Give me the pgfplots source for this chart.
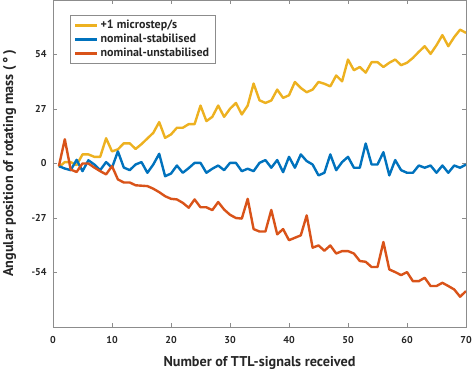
\documentclass[border=0pt]{standalone}
\usepackage{pgfplots}
\pgfplotsset{compat=1.18}
\usepackage{fontspec}
\setmainfont{PT Sans}
\definecolor{myellow}{HTML}{EDB120}
\definecolor{mblue}{HTML}{0072BD}
\definecolor{mred}{HTML}{D95319}
\pgfplotstableread{
x y
1 -1.8
2 0.7
3 0.7
4 -0.8
5 4.5
6 4.5
7 3.3
8 3.3
9 12.5
10 6
11 7
12 10
13 10
14 7.2
15 9.6
16 12.4
17 15.2
18 20.5
19 12.7
20 14.4
21 17.7
22 17.7
23 19.5
24 19.5
25 28.7
26 21
27 23.1
28 28.7
29 23.1
30 27.1
31 30
32 24.3
33 28.7
34 39.6
35 31.3
36 30
37 31.2
38 36.6
39 32.5
40 33.8
41 40.4
42 37.4
43 35.3
44 36.6
45 40.4
46 39.5
47 38.2
48 43.6
49 40.7
50 51.5
51 46.2
52 47.8
53 45
54 50.2
55 50.2
56 47.8
57 49.9
58 51.5
59 48.7
60 49.9
61 52.3
62 55.3
63 58.1
64 54.3
65 58.6
66 63.6
67 58.1
68 62.6
69 66.3
70 64.7
}\tmicro
\pgfplotstableread{
x y
1 -1.3
2 -2.5
3 -3.3
4 1.8
5 -3.8
6 1.6
7 -0.5
8 -3.3
9 0.7
10 -2.1
11 6
12 -2
13 -3.3
14 -0.5
15 0.7
16 -4.6
17 -0.5
18 4.8
19 -6.3
20 -5
21 -1
22 -4.6
23 -2.3
24 0.3
25 0.3
26 -4.6
27 -2.6
28 -1
29 -3.3
30 0.3
31 0.3
32 -3.8
33 -2.6
34 -3.8
35 0.3
36 1.7
37 -2.1
38 1.7
39 -4.3
40 3.3
41 -2.1
42 4.5
43 1.2
44 -0.5
45 -5.9
46 -4.6
47 4.5
48 -3.3
49 0.7
50 3.3
51 -2.1
52 -2.1
53 9.9
54 -0.5
55 -0.5
56 5.6
57 -5.9
58 1.7
59 -3.3
60 -4.6
61 -4.6
62 -1
63 -2.1
64 -1
65 -4.6
66 -1
67 -4.6
68 -1
69 -2.1
70 -0.5
}\tstab
\pgfplotstableread{
x y
1 -1.3
2 12
3 -3
4 -4.2
5 0
6 0
7 -2
8 -3.8
9 -5.4
10 -1.3
11 -7.9
12 -9.4
13 -9.4
14 -10.8
15 -11
16 -11.2
17 -12.5
18 -14.2
19 -16.2
20 -17.5
21 -17.8
22 -19.5
23 -21.9
24 -17.8
25 -21.7
26 -21.7
27 -23.1
28 -19.1
29 -22.8
30 -25.4
31 -27
32 -27.3
33 -17.5
34 -32.5
35 -33.7
36 -33.7
37 -23
38 -35.1
39 -32.5
40 -38
41 -36.8
42 -35.6
43 -25.7
44 -41.7
45 -40.6
46 -43.2
47 -40.6
48 -44.6
49 -43.4
50 -43.4
51 -44.6
52 -48.3
53 -48.7
54 -51.3
55 -51.3
56 -38.9
57 -52.5
58 -53.8
59 -55.3
60 -53.8
61 -58.3
62 -58.3
63 -56.6
64 -60.7
65 -60.7
66 -59.1
67 -60.7
68 -62.4
69 -66
70 -63.2
}\tunstab
\begin{document}
\begin{tikzpicture}
\begin{axis}[
  scale only axis,
  width=413pt, height=327pt,
  xmin=0, xmax=70, ymin=-81, ymax=81,
  xtick={0,10,20,30,40,50,60,70},
  xticklabels={0,10,20,30,40,50,60,70},
  ytick={-54,-27,0,27,54},
  yticklabels={-54,-27,0,27,54},
  tick align=inside,
  tick pos=both,
  major tick length=4pt,
  axis line style={draw=black!45, line width=0.8pt},
  every tick/.style={draw=black!45, line width=0.8pt},
  ticklabel style={font=\fontsize{10}{12}\selectfont\bfseries, text=black!85},
  xticklabel style={yshift=-6pt},
  yticklabel style={xshift=-3pt},
  xlabel={Number of TTL-signals received},
  ylabel={Angular position of rotating mass (\,°\,)},
  label style={font=\fontsize{14.2}{16}\selectfont\bfseries, text=black!85},
  xlabel style={at={(axis description cs:0.5,0)}, anchor=center, yshift=-36pt},
  ylabel style={at={(axis description cs:-0.1053,0.5)}, anchor=center},
  legend style={at={(0.041,0.954)}, anchor=north west, draw=black!45, line width=0.6pt,
    font=\fontsize{12}{14}\selectfont\bfseries, text=black!85, row sep=0pt,
    inner xsep=4pt, inner ysep=3pt},
  legend cell align=left,
  legend image code/.code={\draw[#1, line width=2.4pt] (0pt,0pt) -- (22pt,0pt);},
  every axis plot/.append style={line width=2.4pt, line join=round},
]
\addplot[myellow, mark=none] table[x=x,y=y] {\tmicro};
\addlegendentry{+1 microstep/s}
\addplot[mblue, mark=none] table[x=x,y=y] {\tstab};
\addlegendentry{nominal-stabilised}
\addplot[mred, mark=none] table[x=x,y=y] {\tunstab};
\addlegendentry{nominal-unstabilised}
\end{axis}
\pgfresetboundingbox
\path[use as bounding box] (-53pt,-45pt) rectangle (421pt,327pt);
\end{tikzpicture}
\end{document}
